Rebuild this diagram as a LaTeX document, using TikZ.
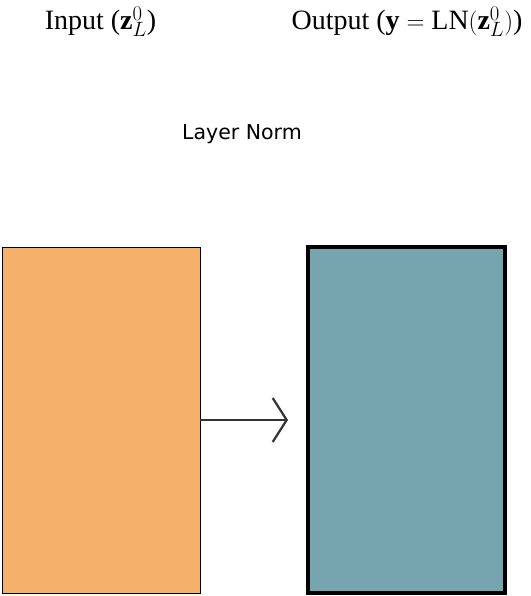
\documentclass[tikz,border=0pt]{standalone}
\usepackage{fontspec}
\setmainfont{Liberation Serif}
\newfontfamily\labelfont{DejaVu Sans}
\usetikzlibrary{arrows.meta,positioning}
\DeclareMathSizes{28}{28}{21}{16}
\definecolor{inorange}{HTML}{F5B06B}
\definecolor{outteal}{HTML}{76A5B0}
\definecolor{arrowgray}{HTML}{333333}
\begin{document}
\begin{tikzpicture}[x=1pt,y=-1pt,
  tensor/.style={draw=black,minimum width=198pt,minimum height=346pt,inner sep=0pt},
  title/.style={font=\fontsize{28}{31}\selectfont,inner sep=0pt}]
\useasboundingbox (0,0) rectangle (530,596);
% Draw the input and output tensors
\node[tensor,fill=inorange,line width=0.8pt] (input) at (101,420) {};
\node[tensor,fill=outteal,line width=3.5pt,minimum width=197pt] (output) at (406.5,420) {};
% Draw the titles
\node[title] (inlabel) at (100.5,22) {Input ($\mathbf{z}^{0}_{L}$)};
\node[title] (outlabel) at (407,22) {Output ($\mathbf{y}=\mathrm{LN}(\mathbf{z}^{0}_{L})$)};
\node[font=\labelfont\fontsize{20.5}{24}\selectfont,inner sep=0pt] (norm) at (242,134) {Layer Norm};
% Draw the arrow
\coordinate (tip) at (288,420);
\draw[-{Straight Barb[length=14pt,width=44pt,line width=2.2pt]},arrowgray,line width=2.2pt] (input.east) -- (tip);
\end{tikzpicture}
\end{document}
